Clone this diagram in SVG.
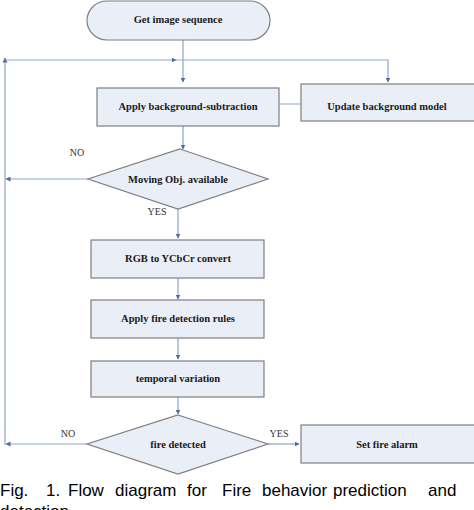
<svg xmlns="http://www.w3.org/2000/svg" width="474" height="510" viewBox="0 0 474 510">
<style>
.box{fill:#e9eef7;stroke:#7f7f7f;stroke-width:1.2}
.lbl{font-family:"Liberation Serif",serif;font-weight:bold;font-size:10.5px;fill:#1a1a1a;text-anchor:middle;dominant-baseline:central}
.yn{font-family:"Liberation Serif",serif;font-size:10px;fill:#333;text-anchor:middle;dominant-baseline:central}
.ln{fill:none;stroke:#8fa5c7;stroke-width:1.2}
.cap{font-family:"Liberation Sans",sans-serif;font-size:17px;fill:#000}
</style>
<defs>
<marker id="ah" viewBox="0 0 10 10" refX="9" refY="5" markerWidth="5" markerHeight="5" orient="auto-start-reverse" markerUnits="userSpaceOnUse">
<path d="M0,0 L10,5 L0,10 z" fill="#4a6c9f"/>
</marker>
</defs>
<rect width="474" height="510" fill="#ffffff"/>
<g id="connectors">
<path class="ln" d="M183,40 V82" marker-end="url(#ah)"/>
<path class="ln" d="M5,445 V58"  marker-end="url(#ah)"/>
<path class="ln" d="M5,60 H176" marker-end="url(#ah)"/>
<path class="ln" d="M176,60 H388 V82" marker-end="url(#ah)"/>
<path class="ln" d="M270,104 H310" marker-start="url(#ah)" marker-end="url(#ah)"/>
<path class="ln" d="M183,126 V149" marker-end="url(#ah)"/>
<path class="ln" d="M88,179 H6" marker-end="url(#ah)"/>
<path class="ln" d="M178,209 V238" marker-end="url(#ah)"/>
<path class="ln" d="M178,278 V299" marker-end="url(#ah)"/>
<path class="ln" d="M178,338 V359" marker-end="url(#ah)"/>
<path class="ln" d="M178,397 V414" marker-end="url(#ah)"/>
<path class="ln" d="M87,444 H6" marker-end="url(#ah)"/>
<path class="ln" d="M268,444 H299" marker-end="url(#ah)"/>
<text class="yn" x="77" y="152">NO</text>
<text class="yn" x="157" y="211">YES</text>
<text class="yn" x="68" y="433">NO</text>
<text class="yn" x="279" y="433">YES</text>
</g>
<g id="start">
<rect class="box" x="87" y="1" width="183" height="39" rx="20" ry="19.5"/>
<text class="lbl" x="178" y="19">Get image sequence</text>
</g>
<g id="bgsub">
<rect class="box" x="97" y="88" width="182" height="38"/>
<text class="lbl" x="188" y="106">Apply background-subtraction</text>
</g>
<g id="update">
<rect class="box" x="301" y="84" width="176" height="37"/>
<text class="lbl" x="387" y="106">Update background model</text>
</g>
<g id="moving">
<polygon class="box" points="180,149 268,179 178,209 88,179"/>
<text class="lbl" x="178" y="179">Moving Obj. available</text>
</g>
<g id="rgb">
<rect class="box" x="91" y="240" width="173" height="38"/>
<text class="lbl" x="178" y="258">RGB to YCbCr convert</text>
</g>
<g id="rules">
<rect class="box" x="91" y="300" width="173" height="38"/>
<text class="lbl" x="178" y="318">Apply fire detection rules</text>
</g>
<g id="temporal">
<rect class="box" x="91" y="361" width="173" height="36"/>
<text class="lbl" x="178" y="378">temporal variation</text>
</g>
<g id="firedet">
<polygon class="box" points="178,415 268,444 178,474 87,444"/>
<text class="lbl" x="178" y="444">fire detected</text>
</g>
<g id="alarm">
<rect class="box" x="301" y="425" width="176" height="38"/>
<text class="lbl" x="387" y="444">Set fire alarm</text>
</g>
<g id="caption">
<text class="cap" y="496"><tspan x="0">Fig.</tspan><tspan x="46">1.</tspan><tspan x="68">Flow</tspan><tspan x="115">diagram</tspan><tspan x="187">for</tspan><tspan x="222">Fire</tspan><tspan x="262">behavior</tspan><tspan x="333">prediction</tspan><tspan x="428">and</tspan></text>
<text class="cap" x="0" y="517">detection</text>
</g>
</svg>
